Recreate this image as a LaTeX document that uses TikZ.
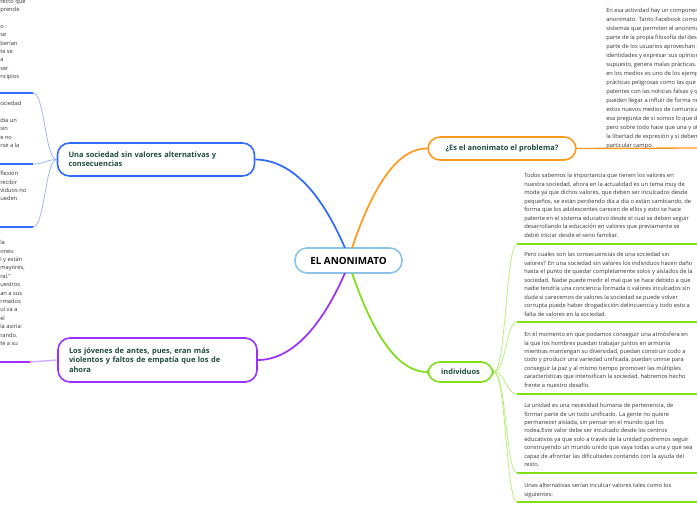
\documentclass[tikz,border=0pt]{standalone}
\usepackage{fontspec}
\setmainfont{Open Sans}
\definecolor{orng}{HTML}{FF9A1F}
\definecolor{blu}{HTML}{2F6BFF}
\definecolor{lblu}{HTML}{9DB8FF}
\definecolor{grn}{HTML}{7FE01A}
\definecolor{lgrn}{HTML}{B8F07E}
\definecolor{purp}{HTML}{9B30FF}
\definecolor{lpurp}{HTML}{D2A8FF}
\definecolor{cbord}{HTML}{8EC3E8}
\definecolor{ttl}{HTML}{1E4D3A}
\definecolor{bod}{HTML}{333333}
\begin{document}
\begin{tikzpicture}[x=0.75pt,y=-0.75pt,
 topic/.style={draw,line width=1.2pt,rounded corners=9pt,fill=white,text=ttl,font=\fontsize{5.6pt}{7pt}\selectfont\bfseries,inner sep=0pt,align=left},
 body/.style={text=bod,font=\fontsize{4.3pt}{6.4pt}\selectfont,inner sep=0pt,align=left,anchor=north west}]
\useasboundingbox (0,0) rectangle (697,520);
% center
\node[topic,draw=cbord,text=black,font=\fontsize{7.4pt}{9pt}\selectfont\bfseries,minimum width=107*0.75pt,minimum height=25*0.75pt,align=center] (c) at (348.5,260.5) {EL ANONIMATO};
% orange
\node[topic,draw=orng,minimum width=148*0.75pt,minimum height=23*0.75pt,align=center] (o) at (502,148.5) {¿Es el anonimato el problema?};
\coordinate (oe) at (697,148);
\draw[orng,line width=1.3pt] (352,248) .. controls (375,180) and (400,148) .. (o.west);
\draw[orng,line width=1pt] (o.east) -- (oe);
\node[body,font=\fontsize{4.3pt}{6.75pt}\selectfont] (ot) at (606,8) {En esa actividad hay un componente de\\anonimato. Tanto Facebook como otros\\sistemas que permiten el anonimato forman\\parte de la propia filosofía del desarrollo, y\\parte de los usuarios aprovechan sus\\identidades y expresar sus opiniones, lo que\\supuesto, genera malas prácticas. El anonimato\\en los medios es uno de los ejemplos de\\prácticas peligrosas como las que se hacen\\patentes con las noticias falsas y que\\pueden llegar a influir de forma negativa en\\estos nuevos medios de comunicación. Genera\\esa pregunta de si somos lo que decimos,\\pero sobre todo hace que una y otra vez se discuta\\la libertad de expresión y si debemos limitarla en\\particular campo.};
% green
\node[topic,draw=grn,minimum width=65*0.75pt,minimum height=20*0.75pt,align=center] (g) at (460.5,372) {individuos};
\draw[grn,line width=1.3pt] (352,273) .. controls (375,340) and (400,372) .. (g.west);
\foreach \y/\n in {244/g1,322/g2,394/g3,473/g4,502/g5}{
 \coordinate (\n) at (517,\y);
 \coordinate (\n e) at (697,\y);
 \draw[lgrn,line width=0.6pt] (g.east) .. controls (506,372) and (506,\y) .. (\n);
 \draw[grn,line width=1pt] (\n) -- (\n e);
}
\node[body] (t1) at (524,173) {Todos sabemos la importancia que tienen los valores en\\nuestra sociedad, ahora en la actualidad es un tema muy de\\moda ya que dichos valores, que deben ser inculcados desde\\pequeños, se están perdiendo día a día o están cambiando, de\\forma que los adolescentes carecen de ellos y esto se hace\\patente en el sistema educativo desde el cual se deben seguir\\desarrollando la educación en valores que previamente se\\debió iniciar desde el seno familiar.};
\node[body] (t2) at (524,252) {Pero cuales son las consecuencias de una sociedad sin\\valores? En una sociedad sin valores los individuos hacen daño\\hasta el punto de quedar completamente solos y aislados de la\\sociedad. Nadie puede medir el mal que se hace debido a que\\nadie tendría una conciencia formada o valores inculcados sin\\duda si carecemos de valores la sociedad se puede volver\\corrupta puede haber drogadicción delincuencia y todo esto a\\falta de valores en la sociedad.};
\node[body,font=\fontsize{4.3pt}{6.3pt}\selectfont] (t3) at (524,332) {En el momento en que podamos conseguir una atmósfera en\\la que los hombres puedan trabajar juntos en armonía\\mientras mantengan su diversidad, puedan construir codo a\\codo y producir una variedad unificada, puedan unirse para\\conseguir la paz y al mismo tiempo promover las múltiples\\características que intensifican la sociedad, habremos hecho\\frente a nuestro desafío.};
\node[body,font=\fontsize{4.3pt}{6.3pt}\selectfont] (t4) at (524,403) {La unidad es una necesidad humana de pertenencia, de\\formar parte de un todo unificado. La gente no quiere\\permanecer aislada, sin pensar en el mundo que los\\rodea.Este valor debe ser inculcado desde los centros\\educativos ya que solo a través de la unidad podremos seguir\\construyendo un mundo unido que vaya todas a una y que sea\\capaz de afrontar las dificultades contando con la ayuda del\\resto.};
\node[body,font=\fontsize{4.3pt}{6.3pt}\selectfont] (t5) at (524,483) {Unas alternativas serían inculcar valores tales como los\\siguientes:};
% blue
\node[topic,draw=blu,minimum height=33*0.75pt,text width=175*0.75pt,inner xsep=11*0.75pt] (b) at (156,159.5) {Una sociedad sin valores alternativas y\\consecuencias};
\draw[blu,line width=1.3pt] (345,248) .. controls (320,190) and (290,160) .. (b.east);
\foreach \y/\n in {93/b1,164/b2,227/b3}{
 \coordinate (\n) at (33,\y);
 \coordinate (\n e) at (0,\y);
 \draw[lblu,line width=0.6pt] (b.west) .. controls (45,160) and (45,\y) .. (\n);
 \draw[blu,line width=1pt] (\n) -- (\n e);
}
\node[body,font=\fontsize{4.3pt}{6.3pt}\selectfont] (l1) at (0,-1) {recto que\\prende\\\\o\\se\\berían\\te se\\a\\ ser\\ncipios};
\node[body,font=\fontsize{4.3pt}{6.3pt}\selectfont] (l2) at (0,101) {ociedad\\\\dia un\\sin\\e no\\rse a la};
\node[body,font=\fontsize{4.3pt}{6.3pt}\selectfont] (l3) at (0,171) {flexión\\ recibir\\viduos no\\ueden};
% purple
\node[topic,draw=purp,minimum height=44*0.75pt,text width=177*0.75pt,inner xsep=11*0.75pt] (p) at (157.5,360) {Los jóvenes de antes, pues, eran más\\violentos y faltos de empatía que los de\\ahora};
\draw[purp,line width=1.3pt] (345,273) .. controls (320,330) and (290,360) .. (p.east);
\coordinate (pm) at (30,362);
\coordinate (pe) at (0,362);
\draw[lpurp,line width=1pt] (p.west) -- (pm);
\draw[purp,line width=1.2pt] (pm) -- (pe);
\node[body,font=\fontsize{4.3pt}{6.3pt}\selectfont] (l4) at (0,240) {la\\ones:\\l y están\\mayores,\\ral.''\\uestros\\an a sus\\rmados\\uí va a\\el\\la asiria:\\rando.\\te a su};
\end{tikzpicture}
\end{document}
